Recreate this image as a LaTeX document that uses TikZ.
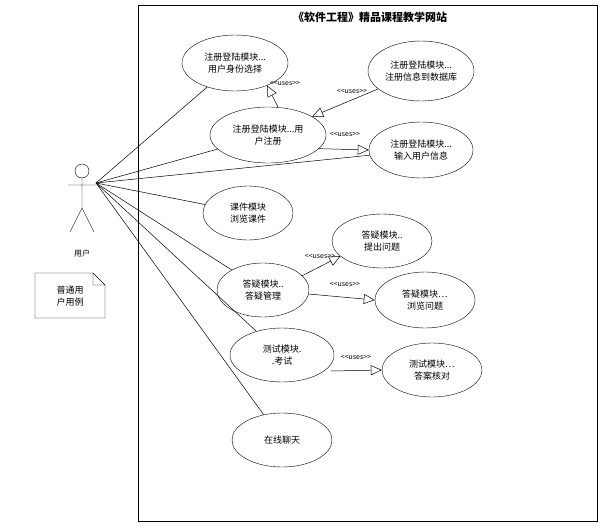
\documentclass[tikz,border=0pt]{standalone}
\usepackage{fontspec}
\setmainfont{Noto Sans CJK SC}
\usetikzlibrary{arrows.meta,shapes.geometric}
\newcommand{\usestag}{<{}<uses>{}>}
\begin{document}
\begin{tikzpicture}[x=1pt,y=-1pt,
  uc/.style={draw,ellipse,inner sep=0pt,align=center,font=\fontsize{9}{12}\selectfont},
  assoc/.style={draw,line width=0.5pt},
  uses/.style={-{Triangle[open,length=11pt,width=10pt]},line width=0.5pt},
  ul/.style={font=\fontsize{7}{8}\selectfont,inner sep=0pt}]
\useasboundingbox (0,0) rectangle (610,530);
\node[draw,minimum width=459pt,minimum height=516pt,anchor=north west,line width=0.6pt] (sys) at (138,5) {};
\node[font=\bfseries\fontsize{11}{13}\selectfont] (title) at (370,17) {《软件工程》精品课程教学网站};
% actor
\draw (82,171) circle (7);
\coordinate (hand) at (96,183);
\draw (82,178) -- (82,208) (68,185) -- (96,185) (82,208) -- (70,232) (82,208) -- (94,232);
\node[font=\fontsize{8}{10}\selectfont] (actor) at (82,253) {用户};
% note
\draw (35,273) -- (93,273) -- (105,285) -- (105,318) -- (35,318) -- cycle (93,273) -- (93,285) -- (105,285);
\node[align=center,font=\fontsize{9}{12}\selectfont] (note) at (70,296) {普通用\\户用例};
% use cases
\node[uc,minimum width=106pt,minimum height=56pt] (e1) at (235,63) {注册登陆模块...\\用户身份选择};
\node[uc,minimum width=116pt,minimum height=56pt] (e2) at (268,135) {注册登陆模块...用\\户注册};
\node[uc,minimum width=106pt,minimum height=60pt] (e3) at (421,71) {注册登陆模块...\\注册信息到数据库};
\node[uc,minimum width=104pt,minimum height=56pt] (e4) at (421,150) {注册登陆模块...\\输入用户信息};
\node[uc,minimum width=90pt,minimum height=54pt] (e5) at (248,213) {课件模块\\浏览课件};
\node[uc,minimum width=92pt,minimum height=54pt] (e6) at (263,290) {答疑模块..\\答疑管理};
\node[uc,minimum width=100pt,minimum height=54pt] (e7) at (382,241) {答疑模块..\\提出问题};
\node[uc,minimum width=100pt,minimum height=56pt] (e8) at (425,300) {答疑模块…\\浏览问题};
\node[uc,minimum width=104pt,minimum height=54pt] (e9) at (282,355) {测试模块.\\.考试};
\node[uc,minimum width=100pt,minimum height=54pt] (e10) at (432,370) {测试模块…\\答案核对};
\node[uc,minimum width=100pt,minimum height=54pt] (e11) at (282,440) {在线聊天};
% associations
\foreach \e in {e1,e2,e4,e5,e6,e9,e11} \draw[assoc] (hand) -- (\e);
% uses
\draw[uses] (e2.70) -- (e1.-35);
\draw[uses] (e3) -- (e2);
\draw[uses] (e2.-15) -- (e4.west);
\draw[uses] (e6.20) -- (e7.200);
\draw[uses] (e6.-5) -- (e8.west);
\draw[uses] (331,371) -- (e10.west);
\node[ul] (u1) at (285,83) {\usestag};
\node[ul] (u2) at (352,91) {\usestag};
\node[ul] (u3) at (345,134) {\usestag};
\node[ul] (u4) at (320,256) {\usestag};
\node[ul] (u5) at (345,284) {\usestag};
\node[ul] (u6) at (356,357) {\usestag};
\end{tikzpicture}
\end{document}
